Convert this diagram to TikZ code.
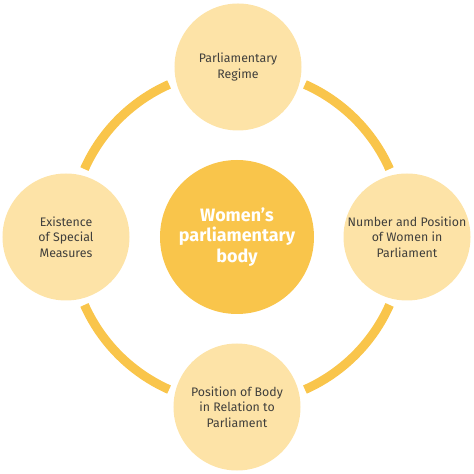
\documentclass[tikz,border=0pt]{standalone}
\usepackage{fontspec}
\setmainfont{Fira Sans}
\usetikzlibrary{positioning,backgrounds}
\definecolor{petal}{HTML}{FDE3A7}
\definecolor{hub}{HTML}{F9C54B}
\definecolor{ring}{HTML}{F9C54B}
\definecolor{txt}{HTML}{403F3C}
\tikzset{
  x=1bp,y=1bp,
  petalnode/.style={circle,fill=petal,minimum size=127bp,inner sep=0pt,
    align=center,text=txt,font=\fontsize{12.4}{15.5}\selectfont},
  hubnode/.style={circle,fill=hub,minimum size=154bp,inner sep=0pt,
    align=center,text=white,font=\fontsize{18}{20.5}\selectfont\bfseries},
  ringarc/.style={ring,line width=9bp},
}

\begin{document}
\begin{tikzpicture}
  \useasboundingbox (-237,-237) rectangle (237,237);
  \node[hubnode] (hub) at (0,0) {Women’s\\parliamentary\\body};
  \node[petalnode] (top) at (1,170) {Parliamentary\\Regime};
  \node[petalnode] (right) at (170,0) {Number and Position\\of Women in\\Parliament};
  \node[petalnode] (bottom) at (0,-170) {Position of Body\\in Relation to\\Parliament};
  \node[petalnode] (left) at (-171,0) {Existence\\of Special\\Measures};
  \begin{scope}[on background layer]
    \foreach \a in {0,90,180,270}
      \draw[ringarc] (hub.center) ++(\a+24:167) arc[start angle=\a+24,end angle=\a+66,radius=167];
  \end{scope}
\end{tikzpicture}
\end{document}
